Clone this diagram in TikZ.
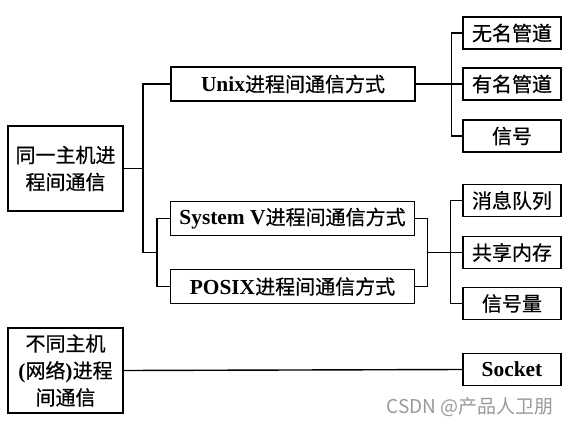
\documentclass[tikz,border=0pt]{standalone}
\usepackage{fontspec}
\setmainfont{Noto Sans CJK SC}[FakeBold=0.6]
\newfontfamily\tms{Liberation Serif}[Scale=1.07,BoldFont=Liberation Serif Bold]
\newfontfamily\wmfont{Noto Sans CJK SC}
\newcommand\lat[1]{{\tms\bfseries #1}}
\begin{document}
\begin{tikzpicture}[x=1pt,y=-1pt,line width=1.4pt,
 box/.style={draw,inner sep=1pt,align=center,font=\fontsize{20}{27}\selectfont},
 root/.style={box,minimum width=115pt,minimum height=85pt},
 way/.style={box,minimum width=244pt,minimum height=34pt},
 leaf/.style={box,minimum width=98pt,minimum height=32pt}]
 \useasboundingbox (0,0) rectangle (570,426);

 % left column
 \node[root] (host) at (65.5,168.5) {同一主机进\\程间通信};
 \node[root] (net) at (65.5,370.5) {不同主机\\\lat{(}网络\lat{)}进程\\间通信};

 % middle column
 \node[way] (unix) at (293,84) {\lat{Unix}进程间通信方式};
 \node[way] (sysv) at (292.5,218.5) {\lat{System V}进程间通信方式};
 \node[way] (posix) at (292.5,286.5) {\lat{POSIX}进程间通信方式};

 % right column
 \node[leaf] (pipe) at (512,33) {无名管道};
 \node[leaf] (fifo) at (512,84) {有名管道};
 \node[leaf] (signal) at (512,136) {信号};
 \node[leaf] (queue) at (512,200.5) {消息队列};
 \node[leaf] (shm) at (512,252.5) {共享内存};
 \node[leaf] (sem) at (512,303.5) {信号量};
 \node[leaf] (sock) at (512,369.5) {\lat{Socket}};

 % connectors
 \coordinate (split) at (143,252.5);
 \draw (unix.west) -| (split) -- ++(14,0) coordinate (fork);
 \draw (host.east) -- (host.east -| split);
 \draw (sysv.west) -| (fork) |- (posix.west);
 \draw (unix.east) -- (fifo.west);
 \draw (pipe.west) -- ++(-11,0) |- (signal.west);
 \draw (sysv.east) -- ++(12,0) coordinate (join) |- (posix.east);
 \draw (join |- shm.west) -- (shm.west);
 \draw (queue.west) -- ++(-12,0) |- (sem.west);
 \draw (net.east) -- (sock.west);

 \node[text=black!40,font=\wmfont\fontsize{19}{19}\selectfont] (mark) at (470,407) {CSDN @产品人卫朋};
\end{tikzpicture}
\end{document}
